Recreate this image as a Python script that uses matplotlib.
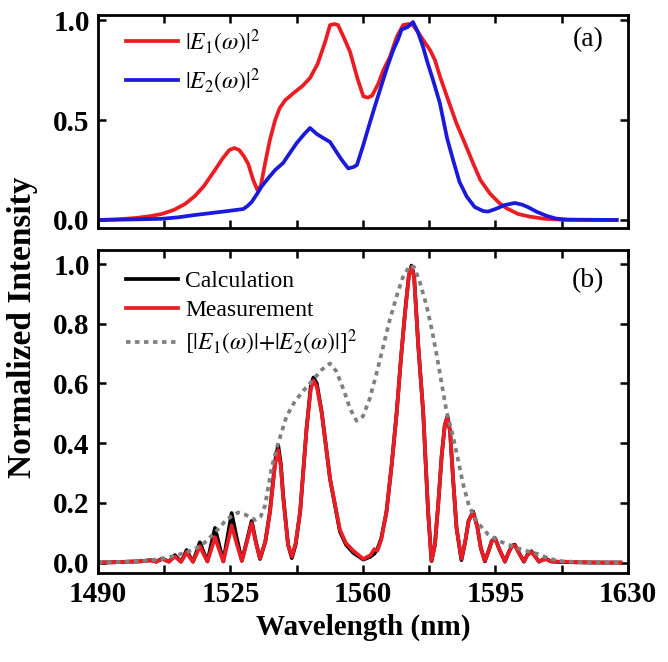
import matplotlib
matplotlib.use('Agg')
import matplotlib.pyplot as plt
from matplotlib.ticker import FixedLocator, FormatStrFormatter, MultipleLocator

plt.rcParams['font.family'] = ['Liberation Serif', 'DejaVu Serif']
plt.rcParams['mathtext.fontset'] = 'stix'

# (a) spectra of the two pulses
wl_e1 = [1490, 1495, 1500, 1504, 1506.8, 1510, 1513, 1515.6, 1518, 1520.9, 1523, 1524.7, 1526,
         1527.3, 1528.5, 1529.7, 1531, 1532.1, 1533, 1534.1, 1535.4, 1536.8, 1538, 1539.5, 1542,
         1544, 1546, 1548, 1550, 1551.3, 1552.5, 1553.4, 1555, 1556.6, 1558.5, 1560.1, 1561.3,
         1562.4, 1564, 1565.4, 1567.1, 1568.9, 1570.6, 1572, 1573.2, 1574.5, 1575.9, 1577.7,
         1579, 1580.3, 1582.5, 1584.7, 1587, 1589.1, 1591, 1593.5, 1596, 1598, 1601, 1604, 1608,
         1613, 1620, 1627]
e1 = [0, 0.003, 0.01, 0.02, 0.03, 0.05, 0.08, 0.12, 0.17, 0.25, 0.31, 0.35, 0.36,
      0.35, 0.32, 0.28, 0.2, 0.15, 0.17, 0.28, 0.40, 0.50, 0.56, 0.60, 0.64,
      0.67, 0.71, 0.78, 0.89, 0.975, 0.98, 0.975, 0.91, 0.84, 0.71, 0.618, 0.612,
      0.622, 0.68, 0.75, 0.815, 0.915, 0.975, 0.98, 0.975, 0.94, 0.9, 0.85,
      0.8, 0.72, 0.6, 0.483, 0.38, 0.283, 0.2, 0.133, 0.085, 0.058, 0.03, 0.017, 0.006,
      0.001, 0.0, 0.0]

wl_e2 = [1490, 1500, 1506.8, 1511, 1515.6, 1520, 1524.4, 1528.4, 1529.5, 1530.6, 1532, 1533.2,
         1535, 1536.8, 1538.9, 1540.5, 1542.5, 1544.5, 1546, 1547.8, 1549.5, 1551.3, 1553,
         1554.4, 1556.1, 1557.5, 1558.4, 1560, 1561.4, 1563, 1564.9, 1566.5, 1568, 1569.2,
         1570.2, 1571.8, 1573.2, 1574.5, 1575.8, 1577, 1578.5, 1580.3, 1582.2, 1583.8, 1585.5,
         1587.4, 1589.5, 1591.7, 1593, 1595, 1597.5, 1600.1, 1602, 1603.5, 1606, 1608.6, 1611,
         1614, 1627]
e2 = [0, 0.003, 0.006, 0.013, 0.025, 0.035, 0.045, 0.055, 0.07, 0.09, 0.13, 0.167,
      0.21, 0.25, 0.285, 0.33, 0.385, 0.43, 0.46, 0.43, 0.41, 0.39, 0.34,
      0.30, 0.258, 0.265, 0.275, 0.37, 0.46, 0.56, 0.675, 0.77, 0.85, 0.9,
      0.952, 0.965, 0.99, 0.94, 0.87, 0.79, 0.70, 0.585, 0.41, 0.30, 0.19,
      0.117, 0.065, 0.045, 0.042, 0.055, 0.075, 0.085, 0.077, 0.065, 0.04, 0.02, 0.007,
      0.002, 0.0]

# (b) interference spectrum
wl_b = [1490, 1494, 1498, 1501, 1503.8, 1505.4, 1507.0, 1508.7, 1510.3, 1511.9, 1512.7, 1513.4,
        1514.2, 1515.1, 1516.0, 1516.9, 1517.9, 1518.9, 1519.9, 1520.9, 1522.0, 1523.1, 1524.2,
        1525.3, 1526.6, 1528.0, 1529.3, 1530.6, 1531.7, 1532.8, 1534.2, 1535.4, 1536.8, 1537.6,
        1538.3, 1538.9, 1540.2, 1541.2, 1542.2, 1543.4, 1545.1, 1546.2, 1546.9, 1547.8, 1549.1,
        1551.3, 1553.9, 1555.5, 1557.4, 1560.1, 1562.0, 1563.0, 1563.8, 1564.8, 1566.2, 1567.6,
        1568.9, 1570.0, 1571.1, 1572.1, 1572.8, 1573.5, 1574.6, 1575.9, 1577.2, 1578.1, 1579.0,
        1579.9, 1580.8, 1581.6, 1582.3, 1583.0, 1583.8, 1584.7, 1586.0, 1587.0, 1587.9, 1589.1,
        1590.2, 1591.1, 1592.2, 1593.2, 1594.0, 1594.9, 1596.0, 1597.5, 1598.5, 1599.4, 1600.1,
        1601.3, 1602.5, 1603.5, 1604.5, 1605.5, 1606.5, 1607.5, 1608.5, 1609.6, 1612, 1616,
        1620, 1624, 1628]
calc = [0, 0.001, 0.003, 0.004, 0.008, 0.003, 0.014, 0.003, 0.025, 0.003, 0.022, 0.042,
        0.022, 0.003, 0.035, 0.068, 0.035, 0.004, 0.06, 0.116, 0.06, 0.004, 0.085,
        0.166, 0.085, 0.006, 0.072, 0.140, 0.07, 0.012, 0.07, 0.17, 0.34, 0.393,
        0.33, 0.227, 0.06, 0.015, 0.06, 0.17, 0.45, 0.59, 0.62, 0.60, 0.504,
        0.28, 0.104, 0.06, 0.033, 0.01, 0.02, 0.03, 0.045, 0.08, 0.17, 0.33,
        0.504, 0.68, 0.838, 0.96, 0.995, 0.96, 0.727, 0.504, 0.17, 0.005, 0.06,
        0.2, 0.36, 0.46, 0.49, 0.44, 0.28, 0.117, 0.008, 0.07, 0.14, 0.171,
        0.12, 0.05, 0.004, 0.04, 0.072, 0.082, 0.045, 0.003, 0.035, 0.057, 0.06,
        0.03, 0.003, 0.028, 0.038, 0.02, 0.003, 0.01, 0.012, 0.004, 0.002, 0.001,
        0.0, 0.0, 0.0]
meas = [0, 0.001, 0.003, 0.004, 0.007, 0.003, 0.012, 0.003, 0.02, 0.003, 0.018, 0.035,
        0.018, 0.003, 0.028, 0.055, 0.028, 0.004, 0.043, 0.085, 0.043, 0.004, 0.063,
        0.124, 0.065, 0.006, 0.068, 0.132, 0.067, 0.014, 0.07, 0.165, 0.33, 0.377,
        0.32, 0.22, 0.06, 0.02, 0.065, 0.17, 0.45, 0.58, 0.61, 0.59, 0.50,
        0.28, 0.11, 0.065, 0.04, 0.012, 0.025, 0.045, 0.04, 0.075, 0.17, 0.33,
        0.50, 0.68, 0.835, 0.96, 0.99, 0.955, 0.727, 0.504, 0.17, 0.005, 0.06,
        0.2, 0.36, 0.46, 0.488, 0.44, 0.28, 0.117, 0.012, 0.07, 0.14, 0.168,
        0.12, 0.05, 0.006, 0.04, 0.07, 0.08, 0.045, 0.004, 0.035, 0.055, 0.058,
        0.03, 0.004, 0.026, 0.036, 0.02, 0.004, 0.009, 0.011, 0.004, 0.003, 0.002,
        0.001, 0.0, 0.0]

wl_env = [1490, 1500, 1506.8, 1511, 1515.6, 1518, 1520.9, 1524, 1527, 1529, 1531.5, 1533,
          1534.1, 1535.9, 1537.6, 1539.8, 1542, 1544.2, 1547, 1549, 1551.3, 1553, 1555, 1556.6,
          1558.3, 1560, 1561.8, 1563.5, 1565.4, 1567, 1568.9, 1570.5, 1572.4, 1573.5, 1575,
          1576.8, 1578.2, 1579.5, 1582.1, 1583.9, 1586.5, 1588, 1590, 1593, 1596.2, 1600.6,
          1603.5, 1606.7, 1609, 1612, 1618, 1628]
env = [0, 0.003, 0.012, 0.025, 0.045, 0.065, 0.1, 0.145, 0.168, 0.16, 0.143, 0.155,
       0.19, 0.32, 0.40, 0.49, 0.54, 0.575, 0.615, 0.645, 0.667, 0.64, 0.575, 0.515,
       0.475, 0.49, 0.55, 0.63, 0.727, 0.81, 0.893, 0.955, 0.995, 0.99, 0.94,
       0.86, 0.78, 0.693, 0.504, 0.417, 0.26, 0.19, 0.138, 0.095, 0.071, 0.049,
       0.038, 0.027, 0.014, 0.005, 0.001, 0]

xticks = [1490, 1525, 1560, 1595, 1630]
xminor = [1507.5, 1542.5, 1577.5, 1612.5]

red = '#ec1c24'
blue = '#1a1ad8'
lw = 2.7

fig = plt.figure(figsize=(6.68, 6.62), dpi=100)
ax1 = fig.add_axes([0.1467, 0.6556, 0.7934, 0.3217])
ax2 = fig.add_axes([0.1467, 0.1344, 0.7934, 0.4879])

ax1.plot(wl_e1, e1, color=red, lw=lw, label=r'$|E_1(\omega)|^2$')
ax1.plot(wl_e2, e2, color=blue, lw=lw, label=r'$|E_2(\omega)|^2$')
ax1.set_ylim(-0.04, 1.025)
ax1.yaxis.set_major_locator(MultipleLocator(0.5))
ax1.text(0.925, 0.885, '(a)', transform=ax1.transAxes, fontsize=20, ha='center', va='center')
ax1.legend(loc='upper left', bbox_to_anchor=(0.035, 0.985), frameon=False, fontsize=17,
           handlelength=2.2, handletextpad=0.3, labelspacing=0.42, borderaxespad=0)
ax1.tick_params(labelbottom=False)

ax2.plot(wl_b, calc, color='black', lw=lw, label='Calculation')
ax2.plot(wl_b, meas, color=red, lw=lw, label='Measurement')
ax2.plot(wl_env, env, color='#808080', lw=lw, ls=(0, (1.2, 1.2)),
         label=r'$[|E_1(\omega)|{+}|E_2(\omega)|]^2$')
ax2.set_ylim(-0.035, 1.047)
ax2.yaxis.set_major_locator(MultipleLocator(0.2))
ax2.text(0.925, 0.905, '(b)', transform=ax2.transAxes, fontsize=20, ha='center', va='center')
ax2.legend(loc='upper left', bbox_to_anchor=(0.035, 0.965), frameon=False, fontsize=17,
           handlelength=2.2, handletextpad=0.3, labelspacing=0.3, borderaxespad=0)
ax2.set_xlabel('Wavelength (nm)', fontsize=21, fontweight='bold', labelpad=4)

for ax in (ax1, ax2):
    ax.set_xlim(1490, 1630)
    ax.xaxis.set_major_locator(FixedLocator(xticks))
    ax.xaxis.set_minor_locator(FixedLocator(xminor))
    ax.tick_params(which='both', direction='in', top=True, right=True, width=1.8, length=6)
    ax.tick_params(labelsize=21, pad=6)
    ax.yaxis.set_major_formatter(FormatStrFormatter('%.1f'))
    for s in ax.spines.values():
        s.set_linewidth(2.0)
    for lab in ax.get_xticklabels() + ax.get_yticklabels():
        lab.set_fontweight('bold')

fig.text(0.034, 0.506, 'Normalized Intensity', rotation=90, fontsize=24, fontweight='bold',
         ha='center', va='center')

fig.savefig('out.png', dpi=100)
